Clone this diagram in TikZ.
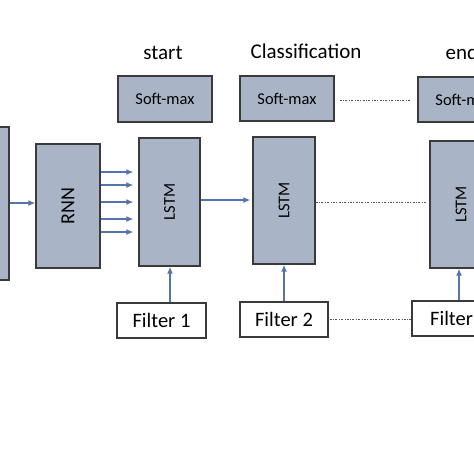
\documentclass[tikz,border=0pt]{standalone}
\usepackage{fontspec}
\setmainfont{Carlito}
\usetikzlibrary{arrows.meta}
\definecolor{boxfill}{HTML}{A9B5C7}
\definecolor{boxline}{HTML}{3A3A3A}
\definecolor{arrowblue}{HTML}{5574AD}
\definecolor{dotgray}{HTML}{555555}
\tikzset{
  x=1pt, y=1pt,
  bluebox/.style={draw=boxline, fill=boxfill, line width=1.4pt, inner sep=0pt},
  whitebox/.style={draw=boxline, fill=white, line width=1.2pt, inner sep=0pt},
  flow/.style={draw=arrowblue, line width=1.2pt, -{Latex[length=7pt,width=6pt]}},
  dotlink/.style={draw=dotgray, line width=0.9pt, dash pattern=on 2pt off 1.5pt on 0.7pt off 1.5pt},
  lbl/.style={font=\fontsize{21}{24}\selectfont, inner sep=0pt},
  smtext/.style={font=\fontsize{16.5}{19}\selectfont},
  lstmtext/.style={font=\fontsize{16.5}{19}\selectfont},
}
\begin{document}
\begin{tikzpicture}
\useasboundingbox (0,0) rectangle (474,-474);
\clip (0,0) rectangle (474,-474);
\fill[white] (0,0) rectangle (474,-474);
% blue boxes
\node[bluebox, minimum width=68, minimum height=153] (inp) at (-25,-203.5) {};
\node[bluebox, minimum width=64, minimum height=124] (rnn) at (68,-206) {};
\node[rotate=90, font=\fontsize{20}{24}\selectfont] (rnntxt) at (rnn.center) {RNN};
\node[bluebox, minimum width=61, minimum height=128] (lstm1) at (169.5,-202) {};
\node[rotate=90, lstmtext] (l1txt) at (lstm1.center) {LSTM};
\node[bluebox, minimum width=62, minimum height=127] (lstm2) at (284,-200.5) {};
\node[rotate=90, lstmtext] (l2txt) at (lstm2.center) {LSTM};
\node[bluebox, minimum width=62, minimum height=127] (lstm3) at (461,-204.5) {};
\node[rotate=90, lstmtext] (l3txt) at (lstm3.center) {LSTM};
\node[bluebox, smtext, minimum width=94, minimum height=46] (sm1) at (165,-99) {Soft-max};
\node[bluebox, smtext, minimum width=94, minimum height=45] (sm2) at (287,-98.5) {Soft-max};
\node[bluebox, smtext, minimum width=94, minimum height=45] (sm3) at (465,-99.5) {Soft-max};
% filters
\node[whitebox, font=\fontsize{20.5}{24}\selectfont, minimum width=89, minimum height=35] (f1) at (161.5,-320.5) {Filter 1};
\node[whitebox, font=\fontsize{20.5}{24}\selectfont, minimum width=88, minimum height=35] (f2) at (284,-319.5) {Filter 2};
\node[whitebox, font=\fontsize{20.5}{24}\selectfont, minimum width=97, minimum height=35] (f3) at (460.5,-318.5) {Filter N};
% labels
\node[lbl] (start) at (163,-53) {start};
\node[lbl] (cls) at (306,-51) {Classification};
\node[lbl] (endl) at (462,-52) {end};
% arrows
\draw[flow] (inp.east |- 0,-203) -- (rnn.west |- 0,-203);
\foreach \yy in {172,185,202,219,232}{
  \draw[flow, shorten >=5pt] (rnn.east |- 0,-\yy) -- (lstm1.west |- 0,-\yy);
}
\draw[flow, shorten >=2pt] (lstm1.east |- 0,-200) -- (lstm2.west |- 0,-200);
\draw[flow] (f1.north -| 170,0) -- (lstm1.south -| 170,0);
\draw[flow] (f2.north -| 284,0) -- (lstm2.south -| 284,0);
\draw[flow] (f3.north -| 459,0) -- (lstm3.south -| 459,0);
% dotted links
\draw[dotlink, shorten <=5pt, shorten >=7pt] (sm2.east |- 0,-100) -- (sm3.west |- 0,-100);
\draw[dotlink, shorten >=3pt] (lstm2.east |- 0,-202) -- (lstm3.west |- 0,-202);
\draw[dotlink, shorten <=1pt] (f2.east |- 0,-319) -- (f3.west |- 0,-319);
\end{tikzpicture}
\end{document}
